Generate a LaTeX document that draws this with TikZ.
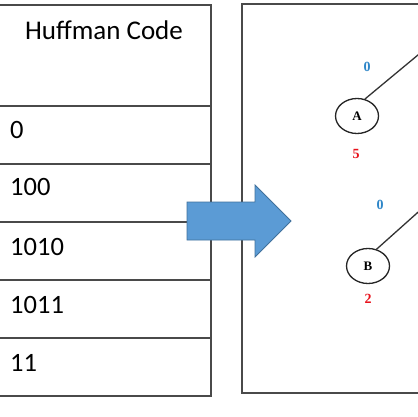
\documentclass[tikz,border=0pt]{standalone}
\usepackage{fontspec}
\setmainfont{Carlito}
\newfontfamily\lserif{Liberation Serif}
\definecolor{tblline}{HTML}{4A4A4A}
\definecolor{arrfill}{HTML}{5B9BD5}
\definecolor{arrdraw}{HTML}{41719C}
\definecolor{lblblue}{HTML}{2E86C8}
\definecolor{lblred}{HTML}{E8121C}
\tikzset{
  tline/.style={draw=tblline, line width=1.4pt},
  cell/.style={anchor=west, inner sep=0pt, font=\fontsize{26.5}{26.5}\selectfont},
  treenode/.style={ellipse, draw=black!85, fill=white, line width=1.3pt, minimum width=43pt, minimum height=35pt, inner sep=0pt, font=\lserif\bfseries\fontsize{13}{13}\selectfont},
  bitlbl/.style={inner sep=0pt, text=lblblue, font=\lserif\bfseries\fontsize{14}{14}\selectfont},
  wlbl/.style={inner sep=0pt, text=lblred, font=\lserif\bfseries\fontsize{14}{14}\selectfont},
  edge/.style={draw=black!80, line width=1.3pt}
}
\usetikzlibrary{shapes.geometric}
\begin{document}
\begin{tikzpicture}[x=1pt,y=-1pt]
\useasboundingbox (0,0) rectangle (417,417);
\fill[white] (0,0) rectangle (417,417);
% table
\draw[tline] (-5,5) -- (211,5) -- (211,396) -- (-5,396);
\foreach \yy in {106,164,222,280,338} \draw[tline] (-5,\yy) -- (211,\yy);
\node[inner sep=0pt, font=\fontsize{27}{27}\selectfont] (hdr) at (104,30) {Huffman Code};
\node[cell] (c1) at (10,130) {0};
\node[cell] (c2) at (10,187) {100};
\node[cell] (c3) at (10,247) {1010};
\node[cell] (c4) at (10,305) {1011};
\node[cell] (c5) at (10,363) {11};
% panel
\draw[tline] (425,4) -- (242,4) -- (242,393) -- (425,393);
% arrow
\draw[fill=arrfill, draw=arrdraw, line width=0.8pt]
  (187,202) -- (255,202) -- (255,185) -- (291,221) -- (255,257) -- (255,240) -- (187,240) -- cycle;
% tree
\node[treenode] (a) at (357,116) {A};
\node[treenode] (b) at (368,266) {B};
\coordinate (pa) at (430,45);
\coordinate (pb) at (430,201.5);
\draw[edge] (a.65) -- (pa);
\draw[edge] (b.63) -- (pb);
\node[bitlbl] (a0) at (367,67) {0};
\node[wlbl] (a5) at (356,154) {5};
\node[bitlbl] (b0) at (380,205) {0};
\node[wlbl] (b2) at (368,299) {2};
\end{tikzpicture}
\end{document}
